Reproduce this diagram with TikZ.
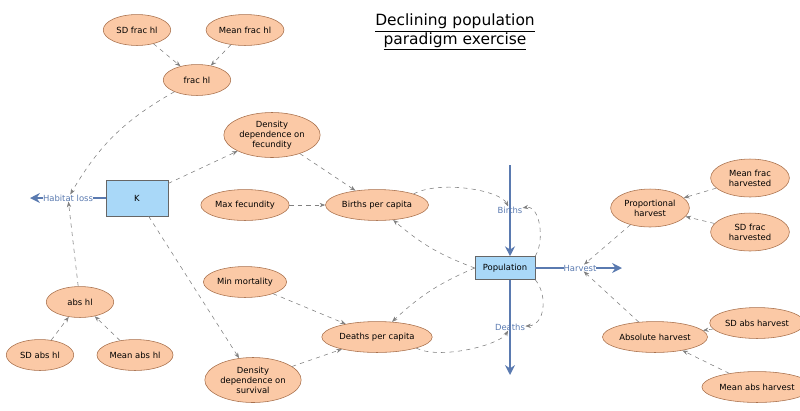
\documentclass[tikz,border=0pt]{standalone}
\usepackage{fontspec}
\setmainfont{DejaVu Sans}
\usetikzlibrary{shapes.geometric,arrows.meta}
\definecolor{varfill}{HTML}{FBC9A6}
\definecolor{vardraw}{HTML}{A8704C}
\definecolor{stockfill}{HTML}{A9D8F8}
\definecolor{flowcol}{HTML}{5A7AB0}
\tikzset{
var/.style={ellipse, draw=vardraw, fill=varfill, minimum width=64pt*0.75, minimum height=22pt, inner sep=1pt, align=center, font=\fontsize{6}{7}\selectfont},
stock/.style={rectangle, draw=black!60, fill=stockfill, align=center, font=\fontsize{6}{7}\selectfont},
flow/.style={draw=flowcol, line width=1.5pt, -{Stealth[length=7pt,width=7pt]}},
link/.style={draw=gray, dashed, thin, -{Stealth[length=4pt]}},
valve/.style={font=\fontsize{6}{7}\selectfont, text=flowcol, inner sep=0pt}
}
\begin{document}
\begin{tikzpicture}[x=0.025cm,y=-0.025cm]
\useasboundingbox (0,0) rectangle (800,410);

\node[font=\fontsize{11}{13}\selectfont, align=center] (title) at (455,32) {\underline{Declining population}\\\underline{paradigm exercise}};

% stocks
\node[stock, minimum width=62*0.025cm, minimum height=36*0.025cm] (K) at (137,198) {K};
\node[stock, minimum width=60*0.025cm, minimum height=23*0.025cm] (pop) at (505,268) {Population};

% flows
\coordinate (hlend) at (30,198);
\coordinate (bstart) at (510,165);
\coordinate (dend) at (510,375);
\coordinate (hend) at (622,268);
\draw[flow] (K) -- (hlend);
\draw[flow] (bstart) -- (pop.north -| bstart);
\draw[flow] (pop.south -| dend) -- (dend);
\draw[flow] (pop) -- (hend);
\node[valve, fill=white] (hl) at (68,198) {Habitat loss};
\node[valve] (births) at (510,210) {Births};
\node[valve] (deaths) at (510,327) {Deaths};
\node[valve, fill=white] (harv) at (580,268) {Harvest};

% variables
\node[var] (sdfhl) at (137,30) {SD frac hl};
\node[var] (mfhl) at (245,30) {Mean frac hl};
\node[var] (fhl) at (197,80) {frac hl};
\node[var, minimum width=60pt, minimum height=32pt] (ddfec) at (272,135) {Density\\dependence on\\fecundity};
\node[var] (maxfec) at (245,205) {Max fecundity};
\node[var, minimum width=55pt] (bpc) at (377,205) {Births per capita};
\node[var] (minmort) at (245,282) {Min mortality};
\node[var, minimum width=55pt] (dpc) at (377,337) {Deaths per capita};
\node[var, minimum width=60pt, minimum height=32pt] (ddsurv) at (253,380) {Density\\dependence on\\survival};
\node[var] (abshl) at (80,302) {abs hl};
\node[var] (sdahl) at (40,355) {SD abs hl};
\node[var] (mahl) at (135,355) {Mean abs hl};
\node[var, minimum width=56pt, minimum height=27pt] (prop) at (650,208) {Proportional\\harvest};
\node[var, minimum width=56pt, minimum height=27pt] (mfh) at (750,178) {Mean frac\\harvested};
\node[var, minimum width=56pt, minimum height=27pt] (sdfh) at (750,232) {SD frac\\harvested};
\node[var, minimum width=56pt] (absh) at (655,337) {Absolute harvest};
\node[var, minimum width=56pt] (sdah) at (757,323) {SD abs harvest};
\node[var, minimum width=56pt] (mah) at (757,387) {Mean abs harvest};

% links
\draw[link] (sdfhl) -- (fhl);
\draw[link] (mfhl) -- (fhl);
\draw[link] (fhl) to[bend right=15] (hl);
\draw[link] (abshl) -- (hl);
\draw[link] (sdahl) -- (abshl);
\draw[link] (mahl) -- (abshl);
\draw[link] (K) -- (ddfec);
\draw[link] (K) -- (ddsurv);
\draw[link] (ddfec) -- (bpc);
\draw[link] (maxfec) -- (bpc);
\draw[link] (minmort) -- (dpc);
\draw[link] (ddsurv) -- (dpc);
\draw[link] (pop.west) to[bend left=10] (bpc);
\draw[link] (pop.west) to[bend right=10] (dpc);
\draw[link] (bpc.north east) .. controls (440,180) and (500,190) .. (births);
\draw[link] (pop.north east) .. controls (545,240) and (540,205) .. (births);
\draw[link] (dpc.south east) .. controls (440,360) and (500,345) .. (deaths);
\draw[link] (pop.south east) .. controls (548,295) and (545,325) .. (deaths);
\draw[link] (prop) -- (harv);
\draw[link] (absh) -- (harv);
\draw[link] (mfh) -- (prop);
\draw[link] (sdfh) -- (prop);
\draw[link] (sdah) -- (absh);
\draw[link] (mah) -- (absh);
\end{tikzpicture}
\end{document}
